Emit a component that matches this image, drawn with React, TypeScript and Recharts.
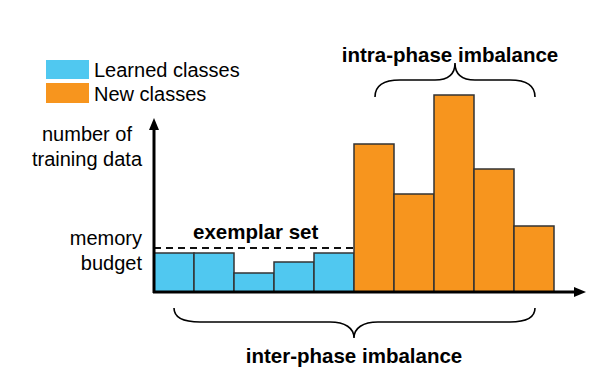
import React from "react"
import { Bar, BarChart, Cell, ReferenceArea, XAxis, YAxis } from "recharts"

const classes = ["c1", "c2", "c3", "c4", "c5", "c6", "c7", "c8", "c9", "c10"]
const trainingData = [39, 39, 19, 30, 39, 148, 98, 197, 123, 66]
const classGroup = ["learned", "learned", "learned", "learned", "learned", "new", "new", "new", "new", "new"]
const memoryBudget = 44
const legendLabels = ["Learned classes", "New classes"]

const BLUE = "#50C8F0"
const ORANGE = "#F7951E"
const FONT = "'Liberation Sans', Arial, sans-serif"

const data = classes.map((name, i) => ({ name, value: trainingData[i], group: classGroup[i] }))

function BudgetLine(props: any) {
  const { x, y, width } = props
  return (
    <line x1={x} x2={x + width} y1={y} y2={y} stroke="#111" strokeWidth={2} strokeDasharray="7 5" />
  )
}

export default function App() {
  return (
    <div style={{ position: "absolute", left: 0, top: 0, width: 594, height: 377, background: "#fff", fontFamily: FONT }}>
      <BarChart
        width={594}
        height={377}
        data={data}
        margin={{ top: 92, right: 40, left: 154, bottom: 85 }}
        barCategoryGap={0}
      >
        <XAxis dataKey="name" hide />
        <YAxis domain={[0, 200]} hide />
        <ReferenceArea x1="c1" x2="c5" y1={0} y2={memoryBudget} shape={BudgetLine} ifOverflow="visible" />
        <Bar dataKey="value" isAnimationActive={false} stroke="#333" strokeWidth={1.5}>
          {data.map((d) => (
            <Cell key={d.name} fill={d.group === "learned" ? BLUE : ORANGE} />
          ))}
        </Bar>
      </BarChart>

      <svg width={594} height={377} style={{ position: "absolute", left: 0, top: 0, pointerEvents: "none" }}>
        {/* axes */}
        <line x1={154} x2={154} y1={293} y2={127} stroke="#000" strokeWidth={3} />
        <polygon points="154,118 149,130 159,130" fill="#000" />
        <line x1={153} x2={576} y1={292} y2={292} stroke="#000" strokeWidth={3} />
        <polygon points="586,292 574,287 574,297" fill="#000" />

        {/* legend */}
        <rect x={46} y={60} width={43} height={19} fill={BLUE} />
        <rect x={46} y={83} width={43} height={20} fill={ORANGE} />
        <text x={94} y={77} fontSize={20} fontFamily={FONT} fill="#000">{legendLabels[0]}</text>
        <text x={94} y={101} fontSize={20} fontFamily={FONT} fill="#000">{legendLabels[1]}</text>

        {/* axis labels */}
        <text x={87} y={141} fontSize={20} fontFamily={FONT} textAnchor="middle" fill="#000">number of</text>
        <text x={87} y={166} fontSize={20} fontFamily={FONT} textAnchor="middle" fill="#000">training data</text>
        <text x={142} y={245} fontSize={20} fontFamily={FONT} textAnchor="end" fill="#000">memory</text>
        <text x={142} y={270} fontSize={20} fontFamily={FONT} textAnchor="end" fill="#000">budget</text>

        {/* annotations */}
        <text x={193} y={239} fontSize={20.5} fontWeight="bold" fontFamily={FONT} fill="#000">exemplar set</text>
        <text x={450} y={62} fontSize={20.5} fontWeight="bold" fontFamily={FONT} textAnchor="middle" fill="#000">intra-phase imbalance</text>
        <text x={354} y={363} fontSize={20.5} fontWeight="bold" fontFamily={FONT} textAnchor="middle" fill="#000">inter-phase imbalance</text>

        {/* braces */}
        <path
          d="M375,97 C375,85 385,80 400,80 L435,80 C447,80 455,75 455,63 C455,75 463,80 475,80 L510,80 C525,80 535,85 535,97"
          fill="none"
          stroke="#000"
          strokeWidth={1.6}
        />
        <path
          d="M174,308 C174,318 184,322 200,322 L330,322 C345,322 354,328 354,338 C354,328 363,322 378,322 L510,322 C525,322 535,318 535,308"
          fill="none"
          stroke="#000"
          strokeWidth={1.6}
        />
      </svg>
    </div>
  )
}
